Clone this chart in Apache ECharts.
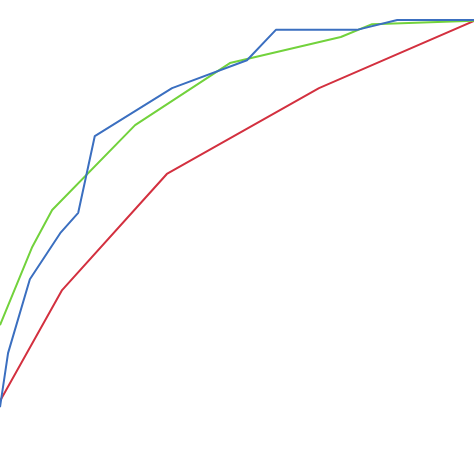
<!DOCTYPE html>
<html>
<head>
<meta charset="utf-8">
<script src="https://cdn.jsdelivr.net/npm/echarts@6/dist/echarts.min.js"></script>
<style>html,body{margin:0;padding:0;background:#fff;}#c{width:474px;height:474px;}</style>
</head>
<body>
<div id="c"></div>
<script>
const redSeries = [[0,15.4],[13.1,38.8],[35.2,63.3],[67.3,81.4],[100,95.6]];
const blueSeries = [[0,14.1],[1.7,25.5],[6.3,41.1],[12.7,50.8],[16.5,55.1],[20.0,71.3],[36.3,81.4],[52.1,87.3],[58.2,93.7],[75.3,93.7],[83.8,95.8],[100,95.8]];
const greenSeries = [[0,31.4],[6.8,47.9],[11.0,55.7],[28.5,73.6],[48.5,86.7],[71.9,92.2],[78.5,94.9],[100,95.6]];

const chart = echarts.init(document.getElementById('c'));
function mk(name, data, color){
  return {name, type:'line', data, symbol:'none', smooth:false,
    lineStyle:{color, width:2}, itemStyle:{color}};
}
chart.setOption({
  animation:false,
  grid:{left:0,right:0,top:0,bottom:0},
  xAxis:{type:'value',min:0,max:100,show:false},
  yAxis:{type:'value',min:0,max:100,show:false},
  series:[
    mk('red', redSeries, '#d3303f'),
    mk('green', greenSeries, '#72d23c'),
    mk('blue', blueSeries, '#3b6fc0')
  ]
});
</script>
</body>
</html>
